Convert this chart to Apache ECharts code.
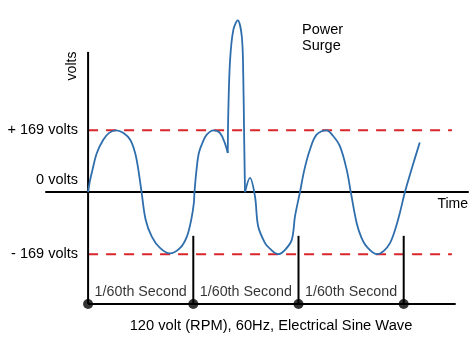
<!DOCTYPE html>
<html>
<head>
<meta charset="utf-8">
<script src="https://cdn.jsdelivr.net/npm/echarts@6/dist/echarts.min.js"></script>
<style>
html,body{margin:0;padding:0;background:#fff;}
#c{width:474px;height:355px;}
</style>
</head>
<body>
<div id="c"></div>
<script>
// x in electrical degrees (360 = 1/60 s), y in volts
var waveA = [[0,0],[6,30],[15,61],[30,107],[52,143],[72,162],[96,169],[120,162],[144,143],[161,107],[172,61],[183,0],[197,-75],[218,-121],[246,-152],[280,-167],[315,-152],[338,-121],[353,-75],[362,-29],[364,0],[371,61],[379,107],[391,134],[406,157],[429,169],[451,162],[468,134],[478,107]];
var waveSurge = [[478,107],[480,225],[486,362],[497,443],[512,469],[526,425],[531,316],[534,150],[537,0]];
var waveC = [[537,0],[554,39],[571,-11],[582,-93],[605,-138],[622,-154],[651,-169],[674,-157],[697,-130],[708,-66],[725,0],[740,61],[759,116],[782,157],[816,169],[838,154],[862,125],[885,61],[899,0],[919,-84],[935,-123],[953,-148],[989,-169],[1012,-160],[1033,-139],[1050,-104],[1067,-56],[1084,0],[1110,71],[1135,136]];
var peakVolts = 169;
var yTickValues = [169, 0, -169];
var yTickLabels = ['+ 169 volts', '0 volts', '- 169 volts'];
var periodMarks = [0, 360, 720, 1080];
var segmentCenters = [180, 540, 900];
var segmentLabels = ['1/60th Second', '1/60th Second', '1/60th Second'];
var baseVolts = -305;
var yAxisTop = 383;
var tickTop = -119;
var dashEnd = 1245;
var baseEnd = 1258;

var FONT = '"Liberation Sans", Arial, sans-serif';
var BLUE = '#2f6eac';
var BLACK = '#000';
var RED = '#d9262b';

var chart = echarts.init(document.getElementById('c'), null, {renderer:'canvas'});
var waveStyle = {color: BLUE, width: 1.8};
function wave(data){
  return {type:'line', data:data, symbol:'none', smooth:0.35, lineStyle:waveStyle, silent:true, z:5};
}
function blackLine(data, z){
  return {type:'line', data:data, symbol:'none', lineStyle:{color:BLACK, width:2}, silent:true, z:z||3};
}
var series = [
  {type:'line', data:[[0,peakVolts],[dashEnd,peakVolts]], symbol:'none', lineStyle:{color:RED, width:2, type:[10,8]}, silent:true, z:2},
  {type:'line', data:[[0,-peakVolts],[dashEnd,-peakVolts]], symbol:'none', lineStyle:{color:RED, width:2, type:[10,8]}, silent:true, z:2},
  blackLine([[0,yAxisTop],[0,baseVolts]]),
  blackLine([[0,baseVolts],[baseEnd,baseVolts]])
];
periodMarks.slice(1).forEach(function(x){ series.push(blackLine([[x,tickTop],[x,baseVolts]])); });
series.push({type:'scatter', data:periodMarks.map(function(x){return [x,baseVolts];}), symbol:'circle', symbolSize:10, itemStyle:{color:BLACK}, silent:true, z:6});
series.push({type:'scatter', data:segmentCenters.map(function(x,i){return {value:[x,baseVolts], name:segmentLabels[i]};}), symbolSize:0,
  label:{show:true, position:'top', distance:5, formatter:function(p){return p.name;}, color:'#000', fontSize:14.3, fontFamily:FONT}, silent:true, z:7});
series.push(wave(waveA), wave(waveSurge), wave(waveC));

chart.setOption({
  animation:false,
  backgroundColor:'#fff',
  grid:{left:46, right:6, top:9, bottom:51, outerBoundsMode:'none'},
  xAxis:{type:'value', min:-144, max:1300, axisLine:{show:true, onZero:true, lineStyle:{color:BLACK, width:2}}, axisTick:{show:false}, axisLabel:{show:false}, splitLine:{show:false}},
  yAxis:{type:'value', min:baseVolts, max:500, axisLine:{show:false, onZero:false}, axisTick:{show:false}, splitLine:{show:false},
    axisLabel:{show:true, customValues:yTickValues, margin:-32, color:'#000', fontSize:14.5, fontFamily:FONT,
      formatter:function(v){ var i = yTickValues.indexOf(v); var t = i>=0 ? yTickLabels[i] : ''; return v===0 ? '{z|'+t+'}' : t; },
      rich:{z:{fontSize:14.5, fontFamily:FONT, color:'#000', padding:[0,0,24,0]}}}},
  graphic:[
    {type:'text', x:72, y:66, rotation:Math.PI/2, style:{text:'volts', font:'14px '+FONT, fill:'#000', align:'center', verticalAlign:'middle'}},
    {type:'text', x:302, y:38, style:{text:'Power\nSurge', font:'14.5px '+FONT, lineHeight:16, fill:'#000', align:'left', verticalAlign:'middle'}},
    {type:'text', x:468, y:204, style:{text:'Time', font:'14px '+FONT, fill:'#000', align:'right', verticalAlign:'middle'}},
    {type:'text', x:271, y:326, style:{text:'120 volt (RPM), 60Hz, Electrical Sine Wave', font:'14.7px '+FONT, fill:'#000', align:'center', verticalAlign:'middle'}}
  ],
  series:series
});
</script>
</body>
</html>
